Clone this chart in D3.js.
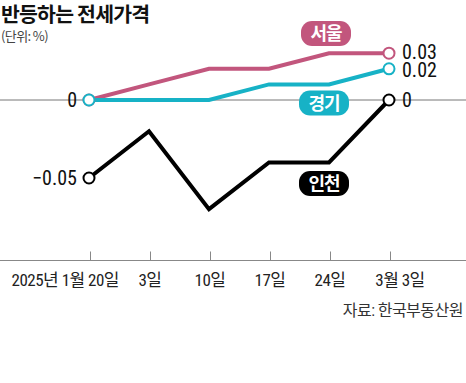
<!DOCTYPE html>
<html><head><meta charset="utf-8">
<script src="https://cdn.jsdelivr.net/npm/d3@7"></script>
<style>
body{margin:0;background:#fff;}
svg{display:block;}
</style></head>
<body>
<svg id="c" width="466" height="383"></svg>
<script>
const categories = ["2025년 1월 20일","3일","10일","17일","24일","3월 3일"];
const seoul = [0, 0.01, 0.02, 0.02, 0.03, 0.03];
const gyeonggi = [0, 0, 0, 0.01, 0.01, 0.02];
const incheon = [-0.05, -0.02, -0.07, -0.04, -0.04, 0];
const seriesNames = ["서울","경기","인천"];
const endLabels = ["0.03","0.02","0"];
const startLabels = ["0","0","−0.05"];

const NUM = "'Liberation Sans Narrow','Roboto Condensed','Noto Sans CJK KR',sans-serif";
const KR = "'Noto Sans CJK KR','Noto Sans',sans-serif";
const svg = d3.select("#c");
const W = 466;

const x = d3.scalePoint().domain(categories).range([89, 389]);
const y = d3.scaleLinear().domain([-0.05, 0]).range([178, 100]);

// title
svg.append("text").attr("x",1).attr("y",22).attr("font-family",KR).attr("font-weight",700)
  .attr("font-size",20.5).attr("letter-spacing",-0.8).attr("fill","#111").text("반등하는 전세가격");
svg.append("text").attr("x",1).attr("y",41).attr("font-family",KR)
  .attr("font-size",13).attr("letter-spacing",-0.6).attr("fill","#444").text("(단위: %)");

// zero line
svg.append("line").attr("x1",0).attr("x2",W).attr("y1",y(0)).attr("y2",y(0))
  .attr("stroke","#777").attr("stroke-width",1);

// x axis
const axisY = 260.5;
const ax = svg.append("g").attr("transform",`translate(0,${axisY})`)
  .call(d3.axisBottom(x).tickSize(-9).tickSizeOuter(0).tickFormat(""));
ax.select(".domain").remove();
ax.selectAll(".tick line").attr("stroke","#888").attr("transform","translate(1,0)");
svg.append("line").attr("x1",0).attr("x2",W).attr("y1",axisY).attr("y2",axisY).attr("stroke","#888");
categories.forEach((c,i)=>{
  const t = svg.append("text").attr("y",286).attr("font-family",NUM).attr("font-size",17)
    .attr("fill","#222").attr("letter-spacing",-0.5).text(c);
  if(i===0){ t.attr("x",x(c)+30).attr("text-anchor","end"); }
  else if(i===categories.length-1){ t.attr("x",x(c)+11).attr("text-anchor","middle"); }
  else { t.attr("x",x(c)+1).attr("text-anchor","middle"); }
});

// source
svg.append("text").attr("x",463).attr("y",316).attr("text-anchor","end").attr("font-family",NUM)
  .attr("font-size",16).attr("fill","#333").attr("letter-spacing",-0.5).text("자료: 한국부동산원");

const data = [seoul, gyeonggi, incheon];
const colors = ["#c2567d","#17b2c6","#000"];
const line = d3.line().x((d,i)=>x(categories[i])).y(d=>y(d));

data.forEach((s,k)=>{
  svg.append("path").datum(s).attr("d",line).attr("fill","none")
    .attr("stroke",colors[k]).attr("stroke-width",4).attr("stroke-linejoin","miter");
});

// start/end circles
data.forEach((s,k)=>{
  [0, s.length-1].forEach(i=>{
    svg.append("circle").attr("cx",x(categories[i])).attr("cy",y(s[i])).attr("r",5.5)
      .attr("fill","#fff").attr("stroke",colors[k]).attr("stroke-width",2);
  });
});

// start labels (unique)
const drawn = new Set();
data.forEach((s,k)=>{
  const v = s[0];
  if(drawn.has(v)) return; drawn.add(v);
  const ty = y(v);
  const lbl = startLabels[k];
  const tx = x(categories[0]) - 12;
  const t = svg.append("text").attr("x",tx).attr("y",ty+7).attr("text-anchor","end")
    .attr("font-family",NUM).attr("font-size",20).attr("fill","#111").text(lbl);
  if(v===0){
    const bb = t.node().getBBox();
    svg.insert("rect","text").attr("x",bb.x-3).attr("y",bb.y).attr("width",bb.width+6).attr("height",bb.height).attr("fill","#fff");
  }
});

// end labels (small vertical nudge so the two close labels don't collide)
const nudge = [-1, 1, 0];
data.forEach((s,k)=>{
  const last = s.length-1;
  const t = svg.append("text").attr("x",x(categories[last])+13).attr("y",y(s[last])+7+nudge[k])
    .attr("font-family",NUM).attr("font-size",20).attr("fill","#111").text(endLabels[k]);
  if(s[last]===0){
    const bb = t.node().getBBox();
    svg.insert("rect","text").attr("x",bb.x-3).attr("y",bb.y).attr("width",bb.width+6).attr("height",bb.height).attr("fill","#fff");
  }
});
svg.selectAll("circle").raise();
svg.selectAll("text").raise();

// badges
const badgePos = [
  {cx:326, cy:33.5},
  {cx:324, cy:103},
  {cx:324, cy:183.5}
];
seriesNames.forEach((n,k)=>{
  const g = svg.append("g").attr("transform",`translate(${badgePos[k].cx},${badgePos[k].cy})`);
  g.append("rect").attr("x",-25).attr("y",-12.5).attr("width",50).attr("height",25).attr("rx",11)
    .attr("fill",colors[k]);
  g.append("text").attr("text-anchor","middle").attr("y",6.5).attr("font-family",KR)
    .attr("font-weight",700).attr("font-size",18).attr("letter-spacing",-1).attr("fill","#fff").text(n);
});
</script>
</body></html>
